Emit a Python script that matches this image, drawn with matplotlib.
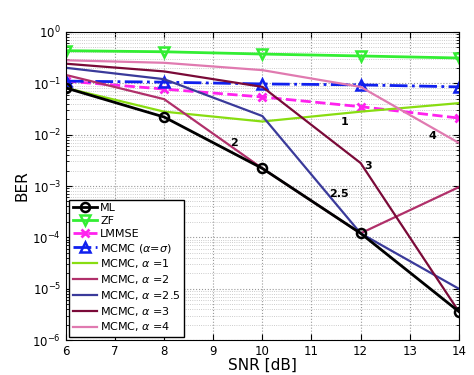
import matplotlib
matplotlib.use("Agg")
import matplotlib.pyplot as plt
from matplotlib.ticker import LogLocator, NullFormatter, FixedLocator

snr = [6, 8, 10, 12, 14]
ber_ml = [0.081, 0.022, 0.0022, 1.2e-4, 3.6e-6]
ber_zf = [0.43, 0.41, 0.37, 0.34, 0.31]
ber_lmmse = [0.11, 0.077, 0.054, 0.035, 0.021]
ber_mcmc_sigma = [0.11, 0.105, 0.097, 0.093, 0.085]
ber_a1 = [0.081, 0.028, 0.018, 0.028, 0.041]
ber_a2 = [0.145, 0.049, 0.0022, 1.2e-4, 9.5e-4]
ber_a25 = [0.2, 0.12, 0.023, 1.2e-4, 1.0e-5]
ber_a3 = [0.24, 0.17, 0.085, 0.0028, 3.6e-6]
ber_a4 = [0.28, 0.25, 0.18, 0.085, 0.0069]

y_ticks = [1e-6, 1e-5, 1e-4, 1e-3, 1e-2, 1e-1, 1]

annot_text = ["1", "2", "2.5", "3", "4"]
annot_x = [11.68, 9.42, 11.56, 12.15, 13.47]
annot_y = [0.018, 0.0069, 7e-4, 0.0025, 0.0094]

fig = plt.figure(figsize=(4.74, 3.75), dpi=100)
ax = fig.add_axes([0.139, 0.093, 0.829, 0.822])

ax.semilogy(snr, ber_ml, color='black', lw=2.0, marker='o', ms=6.5, mfc='none', mew=1.8, label='ML', zorder=5)
ax.semilogy(snr, ber_zf, color='#33ee33', lw=2.0, marker='v', ms=7, mfc='none', mew=1.8, label='ZF')
ax.semilogy(snr, ber_lmmse, color='#ff22ee', lw=2.0, ls='--', marker='x', ms=5.5, mew=2.0, label='LMMSE')
ax.semilogy(snr, ber_mcmc_sigma, color='#1020ee', lw=2.0, ls='-.', marker='^', ms=7, mfc='none', mew=1.8,
            label=r'MCMC ($\alpha$=$\sigma$)')
ax.semilogy(snr, ber_a1, color='#88dd11', lw=1.6, label=r'MCMC, $\alpha$ =1')
ax.semilogy(snr, ber_a2, color='#b0306a', lw=1.6, label=r'MCMC, $\alpha$ =2')
ax.semilogy(snr, ber_a25, color='#3a3a9a', lw=1.6, label=r'MCMC, $\alpha$ =2.5')
ax.semilogy(snr, ber_a3, color='#7a0a38', lw=1.6, label=r'MCMC, $\alpha$ =3')
ax.semilogy(snr, ber_a4, color='#e07ab0', lw=1.6, label=r'MCMC, $\alpha$ =4')

for t, x, y in zip(annot_text, annot_x, annot_y):
    ax.text(x, y, t, fontsize=8, fontweight='bold', ha='center', va='center')

ax.set_xlim(6, 14)
ax.set_ylim(1e-6, 1)
ax.set_xticks(range(6, 15))
ax.yaxis.set_major_locator(FixedLocator(y_ticks))
ax.yaxis.set_minor_locator(LogLocator(base=10, subs=range(2, 10), numticks=20))
ax.yaxis.set_minor_formatter(NullFormatter())
ax.tick_params(axis='both', which='both', direction='in', labelsize=8.5, top=True, right=True)
ax.tick_params(axis='both', which='major', length=4)
ax.tick_params(axis='both', which='minor', length=2)
ax.grid(True, which='major', ls=':', color='#999999', lw=0.8)
ax.grid(True, which='minor', ls=':', color='#bbbbbb', lw=0.6)
ax.set_xlabel('SNR [dB]', fontsize=11, labelpad=0)
ax.set_ylabel('BER', fontsize=11, labelpad=2)

leg = ax.legend(loc='lower left', fontsize=8, handlelength=2.2, labelspacing=0.25,
                borderpad=0.3, handletextpad=0.3, borderaxespad=0.3, fancybox=False,
                framealpha=1)
leg.get_frame().set_edgecolor('black')
leg.get_frame().set_linewidth(1.0)

fig.savefig('out.png', dpi=100)
